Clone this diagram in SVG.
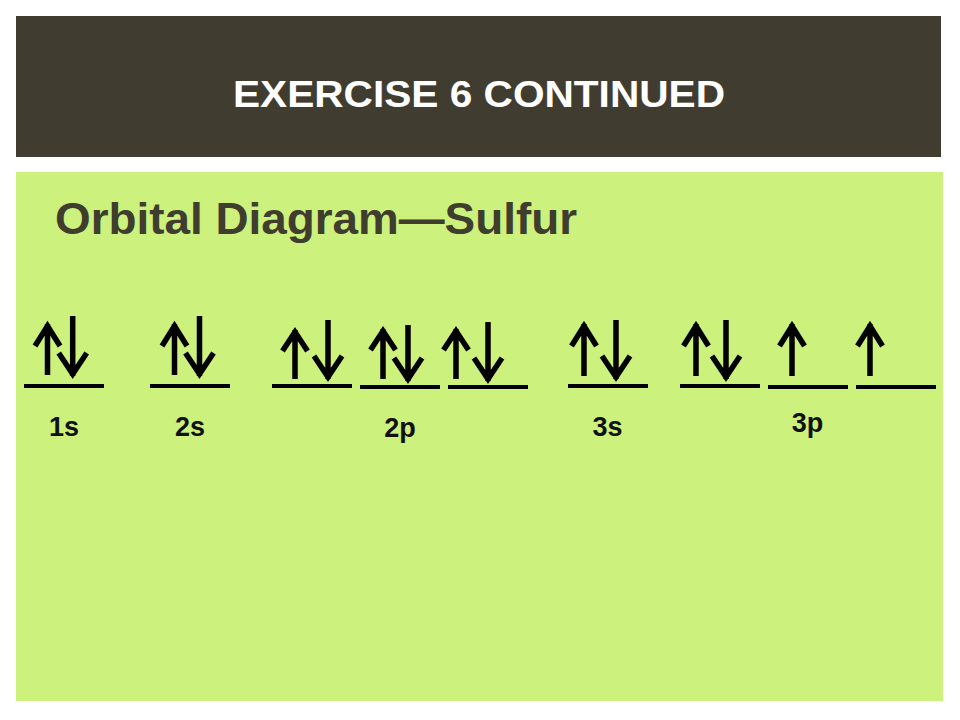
<svg xmlns="http://www.w3.org/2000/svg" width="960" height="720" viewBox="0 0 960 720">
<style>
.lvl{stroke:#000;stroke-width:4;fill:none}
.arr{stroke:#000;stroke-width:5.5;fill:none;stroke-linejoin:miter;stroke-miterlimit:10}
.lbl{font-family:"Liberation Sans",Arial,sans-serif;font-weight:bold;font-size:27px;fill:#111;text-anchor:middle}
</style>
<rect width="960" height="720" fill="#ffffff"/>
<g id="header">
<rect x="16" y="16" width="925" height="141" fill="#403d30"/>
<text x="479" y="107" font-family="'Liberation Sans',Arial,sans-serif" font-weight="bold" font-size="37" fill="#ffffff" text-anchor="middle" textLength="492" lengthAdjust="spacingAndGlyphs">EXERCISE 6 CONTINUED</text>
</g>
<g id="panel">
<rect x="16" y="172" width="927" height="529" fill="#ccf17c"/>
<text x="55" y="234" font-family="'Liberation Sans',Arial,sans-serif" font-weight="bold" font-size="44" fill="#3f3d2e" textLength="522" lengthAdjust="spacingAndGlyphs">Orbital Diagram—Sulfur</text>
</g>
<g id="orb-1s">
<line class="lvl" x1="24" y1="386" x2="104" y2="386"/>
<path class="arr" d="M47.5 375V324 M35 346L47.5 326L60 346"/>
<path class="arr" d="M72.7 316V376 M58.7 353L72.7 374L86.7 353"/>
<text class="lbl" x="64" y="436">1s</text>
</g>
<g id="orb-2s">
<line class="lvl" x1="150" y1="386" x2="230" y2="386"/>
<path class="arr" d="M174.5 375V324 M162 346L174.5 326L187 346"/>
<path class="arr" d="M199.5 316V376 M185.5 353L199.5 374L213.5 353"/>
<text class="lbl" x="190" y="436">2s</text>
</g>
<g id="orb-2p">
<line class="lvl" x1="272" y1="386" x2="352" y2="386"/>
<path class="arr" d="M295 379V330 M282.5 351L295 332L307.5 351"/>
<path class="arr" d="M328 320V379 M314 356L328 377L342 356"/>
<line class="lvl" x1="360" y1="387" x2="440" y2="387"/>
<path class="arr" d="M383 379V329 M370.5 350L383 331L395.5 350"/>
<path class="arr" d="M408 325V381 M394 358L408 379L422 358"/>
<line class="lvl" x1="448" y1="387" x2="528" y2="387"/>
<path class="arr" d="M456 379V329 M443.5 350L456 331L468.5 350"/>
<path class="arr" d="M488 322V381 M474 358L488 379L502 358"/>
<text class="lbl" x="400" y="437">2p</text>
</g>
<g id="orb-3s">
<line class="lvl" x1="568" y1="386" x2="648" y2="386"/>
<path class="arr" d="M584 376V324 M571.5 346L584 326L596.5 346"/>
<path class="arr" d="M616 320V379 M602 356L616 377L630 356"/>
<text class="lbl" x="607.5" y="436">3s</text>
</g>
<g id="orb-3p">
<line class="lvl" x1="680" y1="386" x2="760" y2="386"/>
<path class="arr" d="M696 376V324 M683.5 346L696 326L708.5 346"/>
<path class="arr" d="M726 320V379 M712 356L726 377L740 356"/>
<line class="lvl" x1="768" y1="387" x2="848" y2="387"/>
<path class="arr" d="M792 376V324 M779.5 346L792 326L804.5 346"/>
<line class="lvl" x1="856" y1="387" x2="936" y2="387"/>
<path class="arr" d="M870 376V324 M857.5 346L870 326L882.5 346"/>
<text class="lbl" x="807.5" y="432">3p</text>
</g>
</svg>
